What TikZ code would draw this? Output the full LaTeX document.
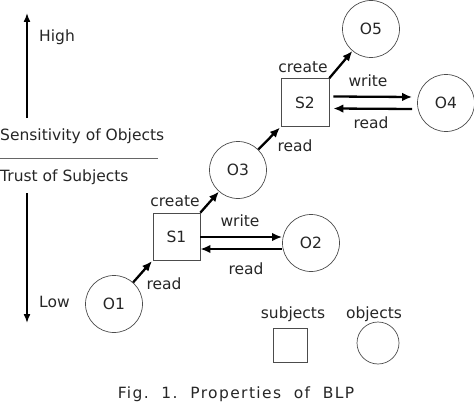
\documentclass[tikz,border=0pt]{standalone}
\usepackage{fontspec}
\setmainfont{DejaVu Sans}
\usetikzlibrary{arrows.meta,calc}
\begin{document}
\begin{tikzpicture}[x=1pt,y=-1pt,
  every node/.style={font=\fontsize{15.5}{17}\selectfont, text=black!85},
  obj/.style={circle, draw=black!70, line width=0.7pt, minimum size=57pt, inner sep=0pt},
  subj/.style={rectangle, draw=black!70, line width=0.7pt, minimum size=47pt, inner sep=0pt},
  arr/.style={line width=2.3pt, -{Latex[length=10pt,width=8.5pt]}},
  lbl/.style={inner sep=0pt}
]
\useasboundingbox (0,0) rectangle (474,404);

% axis
\coordinate (upS) at (27,118);
\coordinate (upE) at (27,13);
\coordinate (dnS) at (27,193);
\coordinate (dnE) at (27,323);
\draw[line width=1.5pt, -{Latex[length=9pt,width=7pt]}] (upS) -- (upE);
\draw[line width=1.5pt, -{Latex[length=9pt,width=7pt]}] (dnS) -- (dnE);
\node[lbl, anchor=west] (high) at (39,37) {High};
\node[lbl, anchor=west] (low) at (39,302) {Low};
\node[lbl, anchor=west] (sens) at (0,136) {Sensitivity of Objects};
\node[lbl, anchor=west] (trust) at (0,177) {Trust of Subjects};
\coordinate (sepL) at (0,158);
\coordinate (sepR) at (158,158);
\draw[black!60, line width=1pt] (sepL) -- (sepR);

% nodes
\node[obj] (O1) at (114,304) {O1};
\node[subj] (S1) at (176.5,236.5) {S1};
\node[obj] (O2) at (311,243) {O2};
\node[obj] (O3) at (238,170) {O3};
\node[subj, minimum size=48pt] (S2) at (305,102.5) {S2};
\node[obj] (O4) at (446,103) {O4};
\node[obj] (O5) at (371,29) {O5};

% connectors
\draw[arr, shorten >=1pt] (O1) -- (S1.south west);
\draw[arr] (S1.north east) -- (O3);
\draw[arr] ([yshift=-0.5pt]S1.east) -- ([yshift=6pt]O2.west);
\draw[arr] ([yshift=-6pt]O2.west) -- ([yshift=-12.5pt]S1.east);
\draw[arr, shorten >=1pt] (O3) -- (S2.south west);
\draw[arr] (S2.north east) -- (O5);
\draw[arr] ([xshift=4pt,yshift=6pt]S2.east) -- ([xshift=-5pt,yshift=6pt]O4.west);
\draw[arr] ([xshift=-5pt,yshift=-6pt]O4.west) -- ([xshift=4pt,yshift=-6pt]S2.east);

% labels
\node[lbl] (c1) at (175,201) {create};
\node[lbl] (r1) at (164,284) {read};
\node[lbl] (w1) at (240,221) {write};
\node[lbl] (r2) at (246,269) {read};
\node[lbl] (r3) at (295,146) {read};
\node[lbl] (c2) at (303,67) {create};
\node[lbl] (w2) at (368,81) {write};
\node[lbl] (r4) at (371,123) {read};

% legend
\node[lbl] (lsub) at (293,314) {subjects};
\node[lbl] (lobj) at (374,314) {objects};
\node[subj, minimum size=34pt] (legS) at (290,345.5) {};
\node[obj, minimum size=42pt] (legO) at (378,343) {};

% caption
\node[lbl] (cap) at (236,394) {\addfontfeature{LetterSpace=9}Fig.\ \ 1.\ \ Properties\ \ of\ \ BLP};
\end{tikzpicture}
\end{document}
